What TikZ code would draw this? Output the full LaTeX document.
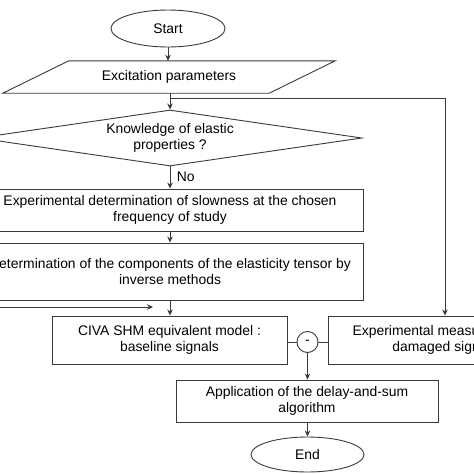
\documentclass[tikz,border=0pt]{standalone}
\usepackage{fontspec}
\setmainfont{Liberation Sans}
\usetikzlibrary{shapes.geometric,arrows.meta}
\definecolor{ln}{HTML}{3A3A3A}
\tikzset{
  every node/.style={font=\fontsize{13.9}{16}\selectfont, text=black},
  box/.style={draw=ln, line width=0.9pt, rectangle, align=center, inner sep=0pt},
  oval/.style={draw=ln, line width=0.9pt, ellipse, inner sep=0pt},
  conn/.style={draw=ln, line width=0.9pt},
  arr/.style={conn, -{Stealth[length=6pt,width=5.5pt]}}
}
\begin{document}
\begin{tikzpicture}[x=1pt,y=-1pt]
\useasboundingbox (0,0) rectangle (474,474);
\clip (0,0) rectangle (474,474);
\fill[white] (0,0) rectangle (474,474);

\node[oval, minimum width=114pt, minimum height=37pt] (start) at (168,28.5) {Start};
\node[inner sep=0pt, minimum width=266pt, minimum height=32pt] (exc) at (169,77) {Excitation parameters};
\draw[conn] ([xshift=33pt]exc.north west) -- ([xshift=33pt]exc.north east)
  -- ([xshift=-33pt]exc.south east) -- ([xshift=-33pt]exc.south west) -- cycle;
\node[draw=ln, line width=0.9pt, diamond, shape aspect=6.9, inner sep=0pt, minimum width=384pt, minimum height=56pt, align=center] (know) at (170,138) {Knowledge of elastic\\properties ?};
\node[box, minimum width=386pt, minimum height=42pt] (exp) at (170,210) {Experimental determination of slowness at the chosen\\frequency of study};
\node[box, minimum width=386pt, minimum height=57pt] (det) at (170,271.5) {Determination of the components of the elasticity tensor by\\inverse methods};
\node[box, minimum width=235pt, minimum height=48pt] (civa) at (169.5,340) {CIVA SHM equivalent model :\\baseline signals};
\node[box, minimum width=234pt, minimum height=48pt] (meas) at (445,340) {Experimental measurements :\\damaged signals};
\node[draw=ln, line width=0.9pt, circle, inner sep=0pt, minimum size=21pt] (minus) at (307.5,342) {-};
\node[box, minimum width=262pt, minimum height=42pt] (app) at (307,401) {Application of the delay-and-sum\\algorithm};
\node[oval, minimum width=113pt, minimum height=35pt] (end) at (307.5,454.5) {End};

\coordinate (br) at (170,98);
\coordinate (lin) at (-5,307);
\coordinate (lend) at (153,307);

\draw[arr] (start.south) -- (start.south |- exc.north);
\draw[arr] (know.north |- exc.south) -- (know.north);
\draw[arr] (br) -| (meas.north);
\draw[arr] (know.south) -- node[right, xshift=3pt, yshift=1pt] {No} (exp.north);
\draw[arr] (exp.south) -- (det.north);
\draw[arr] (det.south) -- (civa.north -| det.south);
\draw[arr] (lin) -- (lend);
\draw[conn] (civa.east |- minus.west) -- (minus.west);
\draw[conn] (minus.east) -- (meas.west |- minus.east);
\draw[arr] (minus.south) -- (minus.south |- app.north);
\draw[arr] (app.south -| end.north) -- (end.north);
\end{tikzpicture}
\end{document}
